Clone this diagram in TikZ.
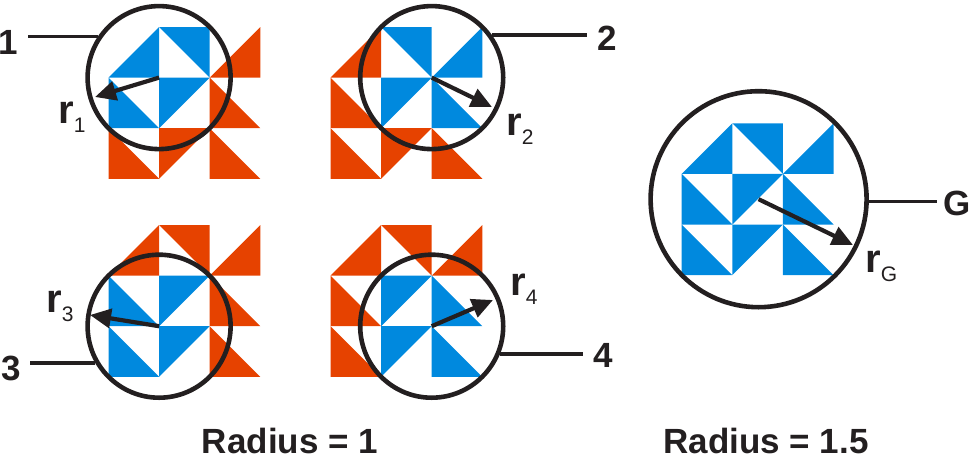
\documentclass[tikz,border=0pt]{standalone}
\usepackage{fontspec}
\setmainfont{Liberation Sans}
\usetikzlibrary{arrows.meta,calc}
\definecolor{tblue}{RGB}{0,137,222}
\definecolor{tred}{RGB}{230,66,0}
\definecolor{ink}{RGB}{35,31,32}
\def\cs{50.6}
\newcommand\patt[6]{%
 \foreach \ci/\ri/\ax/\ay/\bx/\by/\cx/\cy in {0/0/0/1/1/0/1/1, 1/0/0/0/1/0/1/1, 2/0/0/1/1/0/1/1, 0/1/0/0/0/1/1/1, 1/1/0/0/1/0/0/1, 2/1/0/0/0/1/1/1, 0/2/0/0/0/1/1/1, 1/2/0/0/1/0/0/1, 2/2/0/0/0/1/1/1}{%
  \pgfmathtruncatemacro\isblue{(\ci>=#3)&&(\ci<=#4)&&(\ri>=#5)&&(\ri<=#6)}%
  \ifnum\isblue=1 \def\tcol{tblue}\else\def\tcol{tred}\fi
  \fill[\tcol] ({#1+(\ci+\ax)*\cs},{#2+(\ri+\ay)*\cs}) -- ({#1+(\ci+\bx)*\cs},{#2+(\ri+\by)*\cs}) -- ({#1+(\ci+\cx)*\cs},{#2+(\ri+\cy)*\cs}) -- cycle;
 }}
\newcommand\rsub[1]{r\raisebox{-9pt}{\fontsize{21}{21}\selectfont\mdseries #1}}
\begin{document}
\begin{tikzpicture}[x=1pt,y=-1pt,
  ring/.style={circle,draw=ink,line width=4.6pt,inner sep=0pt,fill=none},
  lead/.style={draw=ink,line width=3.6pt},
  arr/.style={draw=ink,line width=4.2pt,-{Triangle[length=21pt,width=19pt]}},
  numlab/.style={inner sep=0pt,text=ink,font=\fontsize{35}{35}\selectfont\bfseries},
  rlab/.style={inner sep=0pt,anchor=base west,text=ink,font=\fontsize{40}{40}\selectfont\bfseries},
  caption/.style={inner sep=0pt,text=ink,font=\fontsize{35}{35}\selectfont\bfseries}]
\useasboundingbox (0,0) rectangle (976,464);
% patterns
\patt{108.5}{27}{0}{1}{0}{1}
\patt{330.5}{27}{1}{2}{0}{1}
\patt{108.5}{225}{0}{1}{1}{2}
\patt{330.5}{225}{1}{2}{1}{2}
\patt{681.7}{123.3}{0}{2}{0}{2}
% circles
\node[ring,minimum size=143pt] (c1) at (159.1,77.6) {};
\node[ring,minimum size=143pt] (c2) at (431.7,77.6) {};
\node[ring,minimum size=143pt] (c3) at (159.1,326.2) {};
\node[ring,minimum size=143pt] (c4) at (431.7,326.2) {};
\node[ring,minimum size=216pt] (cg) at (758.6,199.2) {};
% radius arrows
\coordinate (t1) at (95,97);
\coordinate (t2) at (492,107);
\coordinate (t3) at (90,315);
\coordinate (t4) at (493,300);
\coordinate (tg) at (853,245);
\draw[arr] (c1.center) -- (t1);
\draw[arr] (c2.center) -- (t2);
\draw[arr] (c3.center) -- (t3);
\draw[arr] (c4.center) -- (t4);
\draw[arr] (cg.center) -- (tg);
% labels
\node[numlab] (l1) at (8,42) {1};
\node[numlab] (l2) at (607,38) {2};
\node[numlab] (l3) at (11,368) {3};
\node[numlab] (l4) at (603,355) {4};
\node[numlab] (lg) at (957,203.5) {G};
\coordinate (e1) at (28,0);
\coordinate (e2) at (587,0);
\coordinate (e3) at (30,0);
\coordinate (e4) at (583,0);
\coordinate (eg) at (937,0);
\draw[lead] (c1.146) -- (c1.146 -| e1);
\draw[lead] (c2.35) -- (c2.35 -| e2);
\draw[lead] (c3.210) -- (c3.210 -| e3);
\draw[lead] (c4.-22) -- (c4.-22 -| e4);
\draw[lead,line width=2.8pt] (cg.-1.5) -- (cg.-1.5 -| eg);
% r labels
\node[rlab] (r1) at (58,123) {\rsub{1}};
\node[rlab] (r2) at (506,135) {\rsub{2}};
\node[rlab] (r3) at (46,312) {\rsub{3}};
\node[rlab] (r4) at (510,295) {\rsub{4}};
\node[rlab] (rg) at (865,272) {\rsub{G}};
% captions
\node[caption] (cap1) at (290,441) {Radius = 1};
\node[caption] (cap2) at (766,441) {Radius = 1.5};
\end{tikzpicture}
\end{document}
